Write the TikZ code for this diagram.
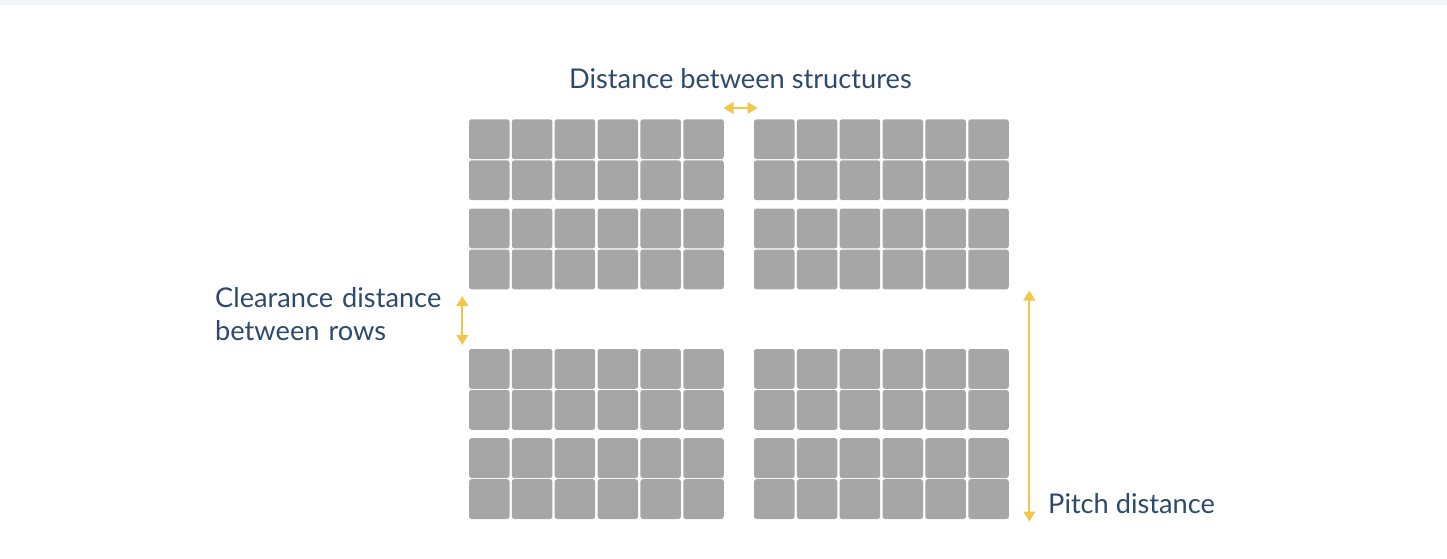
\documentclass[tikz,border=0pt]{standalone}
\usepackage{fontspec}
\setmainfont{Lato}
\usetikzlibrary{arrows.meta}
\definecolor{cellgrey}{HTML}{A6A6A6}
\definecolor{arrowyellow}{HTML}{F2C54B}
\definecolor{labelblue}{HTML}{2C4A6E}
\definecolor{topband}{HTML}{F2F6F9}
\tikzset{
  cell/.style={fill=cellgrey, draw=none, rounded corners=2.5pt},
  dimarrow/.style={draw=arrowyellow, line width=2.3pt,
    {Triangle[width=11.5pt,length=10pt]}-{Triangle[width=11.5pt,length=10pt]}},
  lbl/.style={text=labelblue, inner sep=0pt, font=\fontsize{27.2}{33}\selectfont, align=left}
}
\begin{document}
\begin{tikzpicture}[x=1pt,y=-1pt]
\useasboundingbox (0,0) rectangle (1447,558);
\fill[topband] (0,0) rectangle (1447,5);
% panel grid: two blocks per row of structures
\foreach \bx in {469,754}{
  \foreach \by in {0,229.7}{
    \foreach \ry in {119.3,160.3,208.5,249.5}{
      \foreach \i in {0,...,5}{
        \fill[cell] ({\bx+\i*42.85},{\ry+\by}) rectangle ++(40.5,39.8);
      }
    }
  }
}
% labels
\node[lbl, anchor=base west] (dist) at (569,88.5) {Distance between structures};
\node[lbl, anchor=base west, text width=260pt] (clear) at (215,307.8) {Clearance distance\\between rows};
\node[lbl, anchor=base west] (pitch) at (1048,513.5) {Pitch distance};
% dimension arrows
\coordinate (ha) at (723.5,108);
\coordinate (hb) at (757.5,108);
\coordinate (ca) at (462.3,296);
\coordinate (cb) at (462.3,345);
\coordinate (pa) at (1029.3,290.5);
\coordinate (pb) at (1029.3,521.5);
\draw[dimarrow] (ha) -- (hb);
\draw[dimarrow] (ca) -- (cb);
\draw[dimarrow] (pa) -- (pb);
\end{tikzpicture}
\end{document}
